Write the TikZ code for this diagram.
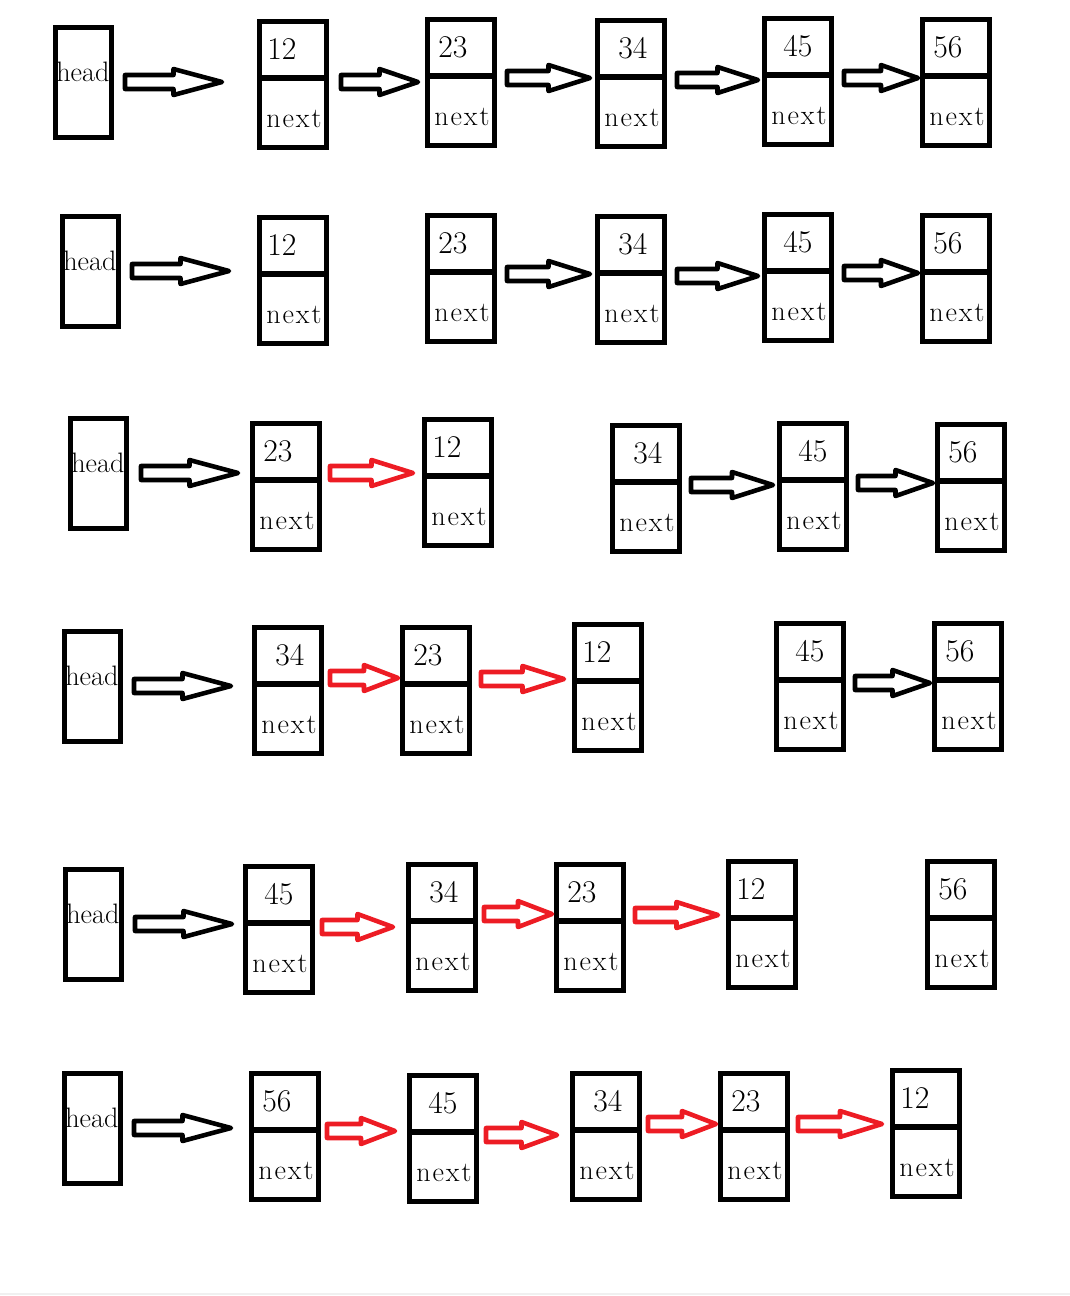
\documentclass[tikz,border=0pt]{standalone}
\definecolor{paintred}{RGB}{237,28,36}
\tikzset{
    box/.style={draw, line width=3.1pt, minimum width=1.34cm, minimum height=2.52cm, anchor=north west, inner sep=0pt, outer sep=0pt},
    headbox/.style={box, minimum width=1.12cm, minimum height=2.2cm},
    boxline/.style={line width=3.1pt},
    lbl/.style={font=\fontsize{16}{18}\selectfont, inner sep=0pt, anchor=west},
    numlbl/.style={lbl, font=\fontsize{18}{20}\selectfont},
    blk/.style={draw=black, line width=2.6pt, line join=round},
    redblk/.style={draw=paintred, line width=2.6pt, line join=round},
}
\newcommand{\nexttext}{n\kern1.1pt e\kern1.1pt x\kern1.1pt t}
% head box: name, left, top
\newcommand{\headcell}[3]{%
    \node[lbl] (#1-txt) at ({#2+3},{#3+47}) {head};
    \node[headbox] (#1) at ({#2+2.5},{#3+2.5}) {};
}
% list cell: name, left, top, number, shift of number
\newcommand{\cell}[5]{%
    \node[box] (#1) at ({#2+2.5},{#3+2.5}) {};
    \draw[boxline] ({#2+2.5},{#3+59}) -- ({#2+69.5},{#3+59});
    \node[numlbl] (#1-num) at ({#2+#5},{#3+30}) {#4};
    \node[lbl] (#1-next) at ({#2+9},{#3+100}) {\nexttext};
}
% hollow block arrow: style, from x, to x, y
\newcommand{\barrow}[4]{%
    \draw[#1] (#2,{#4-7}) -- ({(#2+#3)/2},{#4-7}) -- ({(#2+#3)/2},{#4-13}) -- (#3,#4) -- ({(#2+#3)/2},{#4+13}) -- ({(#2+#3)/2},{#4+7}) -- (#2,{#4+7}) -- cycle;
}
\begin{document}
\begin{tikzpicture}[x=0.02cm, y=-0.02cm]
    \useasboundingbox (0,0) rectangle (1070,1296);
    \draw[black!6, line width=1pt] (0,1294) -- (1070,1294);

    % row 1
    \headcell{r1h}{53}{25}
    \cell{r1a}{257}{19}{12}{10}
    \cell{r1b}{425}{17}{23}{13}
    \cell{r1c}{595}{18}{34}{23}
    \cell{r1d}{762}{16}{45}{21}
    \cell{r1e}{920}{17}{56}{13}
    \barrow{blk}{125}{222}{82}
    \barrow{blk}{341}{418}{82}
    \barrow{blk}{507}{590}{78}
    \barrow{blk}{677}{758}{80}
    \barrow{blk}{844}{918}{78}

    % row 2
    \headcell{r2h}{60}{214}
    \cell{r2a}{257}{215}{12}{10}
    \cell{r2b}{425}{213}{23}{13}
    \cell{r2c}{595}{214}{34}{23}
    \cell{r2d}{762}{212}{45}{21}
    \cell{r2e}{920}{213}{56}{13}
    \barrow{blk}{132}{229}{271}
    \barrow{blk}{507}{590}{274}
    \barrow{blk}{677}{758}{276}
    \barrow{blk}{844}{918}{273}

    % row 3
    \headcell{r3h}{68}{416}
    \cell{r3a}{250}{421}{23}{13}
    \cell{r3b}{422}{417}{12}{10}
    \cell{r3c}{610}{423}{34}{23}
    \cell{r3d}{777}{421}{45}{21}
    \cell{r3e}{935}{422}{56}{13}
    \barrow{blk}{141}{238}{473}
    \barrow{redblk}{330}{413}{473}
    \barrow{blk}{691}{773}{485}
    \barrow{blk}{858}{933}{483}

    % row 4
    \headcell{r4h}{62}{629}
    \cell{r4a}{252}{625}{34}{23}
    \cell{r4b}{400}{625}{23}{13}
    \cell{r4c}{572}{622}{12}{10}
    \cell{r4d}{774}{621}{45}{21}
    \cell{r4e}{932}{621}{56}{13}
    \barrow{blk}{134}{231}{686}
    \barrow{redblk}{330}{398}{678}
    \barrow{redblk}{481}{564}{679}
    \barrow{blk}{855}{930}{683}

    % row 5
    \headcell{r5h}{63}{867}
    \cell{r5a}{243}{864}{45}{21}
    \cell{r5b}{406}{862}{34}{23}
    \cell{r5c}{554}{862}{23}{13}
    \cell{r5d}{726}{859}{12}{10}
    \cell{r5e}{925}{859}{56}{13}
    \barrow{blk}{135}{232}{924}
    \barrow{redblk}{322}{393}{927}
    \barrow{redblk}{484}{552}{914}
    \barrow{redblk}{635}{718}{915}

    % row 6
    \headcell{r6h}{62}{1071}
    \cell{r6a}{249}{1071}{56}{13}
    \cell{r6b}{407}{1073}{45}{21}
    \cell{r6c}{570}{1071}{34}{23}
    \cell{r6d}{718}{1071}{23}{13}
    \cell{r6e}{890}{1068}{12}{10}
    \barrow{blk}{134}{231}{1128}
    \barrow{redblk}{327}{395}{1131}
    \barrow{redblk}{486}{557}{1135}
    \barrow{redblk}{648}{716}{1124}
    \barrow{redblk}{798}{882}{1124}
\end{tikzpicture}
\end{document}
